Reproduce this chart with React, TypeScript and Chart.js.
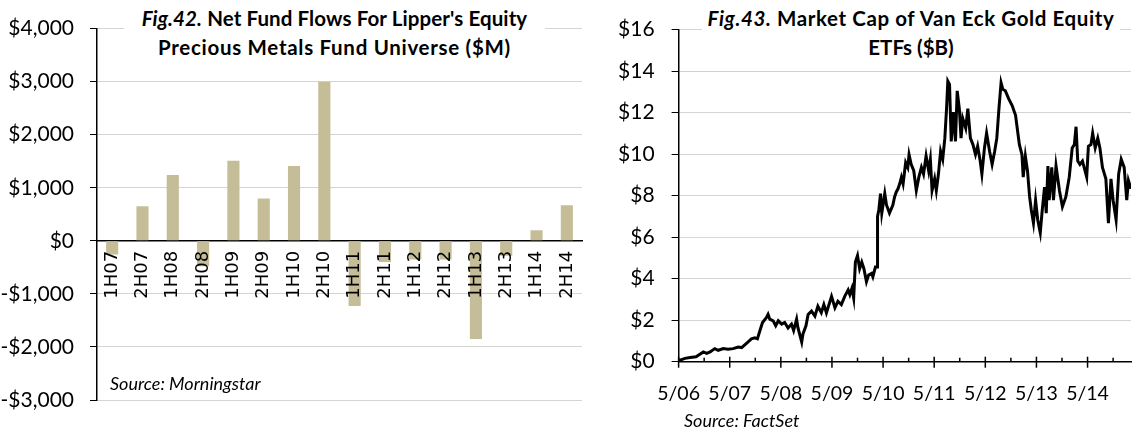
import React, { useEffect, useRef } from "react";
import { Chart, registerables } from "chart.js";

Chart.register(...registerables);

// ---------- Fig.42 data ----------
const flowCategories = [
  "1H07", "2H07", "1H08", "2H08", "1H09", "2H09", "1H10", "2H10",
  "1H11", "2H11", "1H12", "2H12", "1H13", "2H13", "1H14", "2H14",
];
const flowValues = [
  -260, 650, 1240, -480, 1510, 800, 1410, 3000,
  -1230, -400, -350, -350, -1850, -280, 200, 670,
];
const flowAxisMin = -3000;
const flowAxisMax = 4000;
const flowAxisStep = 1000;

// ---------- Fig.43 data (months after May 2006, $B) ----------
const capMonths = [
  0, 1.5, 2.7, 4.1, 5.8, 6.6, 7.4, 8.5, 9.3, 10.5, 11.6, 12.8, 14, 14.8, 16,
  17.1, 17.9, 18.5, 19.1, 19.7, 20.6, 21, 21.4, 22.2, 22.8, 23.4, 24.2, 24.9,
  25.7, 26.5, 27, 27.7, 28, 28.9, 29.2, 29.9, 30.4, 31.2, 32, 32.7, 33.5, 34.1,
  34.7, 35.9, 36.7, 37.4, 38.2, 39, 39.8, 40.2, 40.7, 41.1, 41.5, 42, 42.5, 43,
  43.5, 44.1, 44.6, 45.3, 45.6, 46.2, 46.6, 46.7, 47, 47.4, 47.7, 48.4, 48.8,
  49.5, 50.3, 50.7, 51.1, 51.5, 51.9, 52.3, 52.7, 53.3, 53.8, 54.1, 54.6, 55.2,
  55.8, 56.4, 57, 57.5, 58.1, 58.7, 59.1, 59.5, 60.1, 60.5, 61, 61.5, 62, 62.5,
  62.9, 63.2, 63.6, 64, 64.5, 65, 65.4, 65.9, 66.3, 66.7, 67.4, 67.9, 68.5,
  69.1, 69.7, 70.2, 70.8, 71.2, 71.8, 72.3, 73, 73.6, 74.2, 74.7, 75.2, 75.7,
  76.1, 76.7, 77.5, 78.3, 79.1, 79.6, 80, 80.6, 80.9, 81.4, 81.9, 82.4, 82.8,
  83.3, 83.8, 84.3, 84.9, 85.3, 85.9, 86.3, 86.7, 87, 87.6, 88, 88.6, 89.4,
  90.1, 90.9, 91.7, 92.4, 92.9, 93.3, 93.7, 94.2, 94.8, 95.8, 96.2, 96.8, 97.2,
  97.8, 98.4, 98.9, 99.5, 100.3, 100.9, 101.5, 102, 102.7, 103.3, 103.9, 104.6,
  105.2, 105.6, 106.2,
];
const capValues = [
  0.05, 0.16, 0.2, 0.24, 0.47, 0.4, 0.47, 0.63, 0.55, 0.63, 0.6, 0.63, 0.71,
  0.68, 0.9, 1.1, 1.15, 1.1, 1.5, 1.89, 2.12, 2.28, 2.05, 1.97, 1.73, 1.97,
  1.81, 1.89, 1.62, 1.81, 1.5, 2.05, 1.65, 0.94, 1.34, 1.73, 2.28, 2.44, 2.2,
  2.67, 2.36, 2.75, 2.35, 3.15, 2.6, 2.91, 2.75, 3.15, 3.46, 3.23, 3.54, 3.07,
  4.8, 5.11, 4.48, 4.8, 4.48, 3.85, 4.17, 4.25, 4.09, 4.56, 4.56, 7.0, 7.31,
  8.1, 7.16, 8.1, 7.55, 7.16, 7.55, 7.94, 8.18, 8.33, 8.57, 8.89, 8.57, 9.59,
  9.36, 9.98, 9.51, 9.2, 8.25, 8.89, 9.36, 9.04, 9.91, 9.2, 9.75, 8.25, 8.81,
  8.25, 9.04, 10.14, 9.75, 10.77, 12.19, 13.52, 13.36, 10.61, 12.03, 10.61,
  13.05, 12.19, 10.77, 11.72, 11.25, 12.19, 10.77, 10.46, 9.98, 10.38, 9.67,
  9.04, 10.3, 11.01, 10.14, 9.51, 10.14, 10.77, 12.19, 13.44, 13.13, 13.05,
  12.66, 12.34, 11.87, 11.08, 10.46, 9.98, 8.89, 9.91, 9.2, 7.94, 7.31, 6.68,
  7.78, 6.84, 6.21, 7.16, 8.41, 7.16, 9.43, 7.78, 9.36, 7.78, 9.43, 8.25, 7.47,
  7.94, 8.89, 10.3, 10.46, 11.32, 9.67, 9.51, 9.67, 8.89, 10.38, 10.46, 11.01,
  10.3, 10.77, 10.3, 9.36, 8.81, 6.68, 8.81, 7.78, 6.84, 9.04, 9.75, 9.36, 7.78,
  8.73, 8.33,
];
const capYearLabels = ["5/06", "5/07", "5/08", "5/09", "5/10", "5/11", "5/12", "5/13", "5/14"];
const capTickMonths = [0, 6, 12, 18, 24, 30, 36, 42, 48, 54, 60, 66, 72, 78, 84, 90, 96, 102];
const capAxisMin = 0;
const capAxisMax = 16;
const capAxisStep = 2;

const LABEL_FONT = "Lato";

function fmtFlow(v: number): string {
  return (v < 0 ? "-" : "") + "$" + Math.abs(v).toLocaleString("en-US");
}

const majorMinorTicks = {
  id: "majorMinorTicks",
  afterDatasetsDraw(chart: any) {
    const xs = chart.scales.x;
    const bottom = chart.chartArea.bottom;
    const ctx = chart.ctx;
    ctx.save();
    ctx.strokeStyle = "#000";
    ctx.lineWidth = 1.5;
    xs.ticks.forEach((t: any) => {
      const px = xs.getPixelForValue(t.value);
      const major = t.value % 12 === 0;
      ctx.beginPath();
      ctx.moveTo(px, bottom - (major ? 5 : 4));
      ctx.lineTo(px, bottom + (major ? 6 : 0));
      ctx.stroke();
    });
    ctx.restore();
  },
};

export default function App() {
  const leftRef = useRef<HTMLCanvasElement | null>(null);
  const rightRef = useRef<HTMLCanvasElement | null>(null);

  useEffect(() => {
    const left = new Chart(leftRef.current as HTMLCanvasElement, {
      type: "bar",
      data: {
        labels: flowCategories,
        datasets: [
          {
            data: flowValues,
            backgroundColor: "#c4bd97",
            barPercentage: 0.4,
            categoryPercentage: 1,
          },
        ],
      },
      options: {
        responsive: false,
        animation: false,
        layout: { padding: { left: 0, right: 18, top: 25, bottom: 40 } },
        plugins: { legend: { display: false }, tooltip: { enabled: false } },
        scales: {
          x: {
            position: { y: 0 } as any,
            afterFit: (s: any) => {
              s.height = 0;
            },
            grid: { display: true, color: "transparent", drawTicks: false },
            border: { display: true, color: "#000", width: 1.5 },
            ticks: {
              z: 1,
              minRotation: 90,
              maxRotation: 90,
              autoSkip: false,
              padding: 10,
              color: "#000",
              font: { family: "DejaVu Sans", size: 18 },
            },
          },
          y: {
            min: flowAxisMin,
            max: flowAxisMax,
            afterFit: (s: any) => {
              s.width = 97;
            },
            ticks: {
              stepSize: flowAxisStep,
              padding: 16,
              color: "#000",
              font: { family: LABEL_FONT, size: 21 },
              callback: (v: any) => fmtFlow(Number(v)),
            },
            grid: {
              color: (c: any) => (c.tick && c.tick.value === 0 ? "#000" : "#d4d4d4"),
              tickColor: "#000",
              tickLength: 7,
              lineWidth: 1,
            },
            border: { color: "#000", width: 1.5 },
          },
        },
      },
    });

    const right = new Chart(rightRef.current as HTMLCanvasElement, {
      type: "line",
      data: {
        datasets: [
          {
            data: capMonths.map((m, i) => ({ x: m, y: capValues[i] })),
            borderColor: "#000",
            borderWidth: 3,
            pointRadius: 0,
            tension: 0,
          },
        ],
      },
      options: {
        responsive: false,
        animation: false,
        layout: { padding: { left: 0, right: 14, top: 21.7, bottom: 18.3 } },
        plugins: { legend: { display: false }, tooltip: { enabled: false } },
        scales: {
          x: {
            type: "linear",
            min: capMonths[0],
            max: capMonths[capMonths.length - 1],
            afterBuildTicks: (s: any) => {
              s.ticks = capTickMonths.map((v) => ({ value: v }));
            },
            afterFit: (s: any) => {
              s.height = 60;
            },
            grid: { display: true, color: "transparent", drawTicks: false },
            border: { display: true, color: "#000", width: 1.5 },
            ticks: {
              autoSkip: false,
              maxRotation: 0,
              padding: 20,
              color: "#000",
              font: { family: LABEL_FONT, size: 19.5 },
              callback: (v: any) => (Number(v) % 12 === 0 ? capYearLabels[Number(v) / 12] : ""),
            },
          },
          y: {
            min: capAxisMin,
            max: capAxisMax,
            afterFit: (s: any) => {
              s.width = 78.6;
            },
            ticks: {
              stepSize: capAxisStep,
              padding: 17,
              color: "#000",
              font: { family: LABEL_FONT, size: 21 },
              callback: (v: any) => "$" + v,
            },
            grid: {
              color: (c: any) =>
                c.tick && c.tick.value === 14 ? "#e0c6e0" : c.tick && c.tick.value === 6 ? "#d0dcd0" : "#d4d4d4",
              tickColor: "#000",
              tickLength: 7,
              lineWidth: 1,
            },
            border: { color: "#000", width: 1.5 },
          },
        },
      },
      plugins: [majorMinorTicks],
    });

    return () => {
      left.destroy();
      right.destroy();
    };
  }, []);

  const titleBox: React.CSSProperties = {
    position: "absolute",
    top: 4,
    height: 57,
    background: "#fff",
    textAlign: "center",
    fontFamily: LABEL_FONT,
    fontWeight: 700,
    fontSize: 20.5,
    lineHeight: "29px",
    color: "#000",
    whiteSpace: "nowrap",
  };
  const sourceStyle: React.CSSProperties = {
    position: "absolute",
    fontFamily: LABEL_FONT,
    fontStyle: "italic",
    fontSize: 18,
    lineHeight: "20px",
    color: "#000",
    whiteSpace: "nowrap",
  };

  return (
    <div
      style={{
        position: "absolute",
        left: 0,
        top: 0,
        width: 1145,
        height: 440,
        background: "#fff",
        overflow: "hidden",
      }}
    >
      <canvas ref={leftRef} width={600} height={440} style={{ position: "absolute", left: 0, top: 0 }} />
      <canvas ref={rightRef} width={545} height={440} style={{ position: "absolute", left: 600, top: 0 }} />
      <div style={{ ...titleBox, left: 124, width: 421 }}>
        <span style={{ letterSpacing: "0.1px" }}>
          <i>Fig.42.</i> Net Fund Flows For Lipper's Equity
        </span>
        <br />
        <span style={{ letterSpacing: "0.7px" }}>Precious Metals Fund Universe ($M)</span>
      </div>
      <div style={{ ...titleBox, left: 702, width: 418 }}>
        <span style={{ letterSpacing: "0.6px" }}>
          <i>Fig.43.</i> Market Cap of Van Eck Gold Equity
        </span>
        <br />
        ETFs ($B)
      </div>
      <div style={{ ...sourceStyle, left: 110, top: 373 }}>Source: Morningstar</div>
      <div style={{ ...sourceStyle, left: 684, top: 410 }}>Source: FactSet</div>
    </div>
  );
}
